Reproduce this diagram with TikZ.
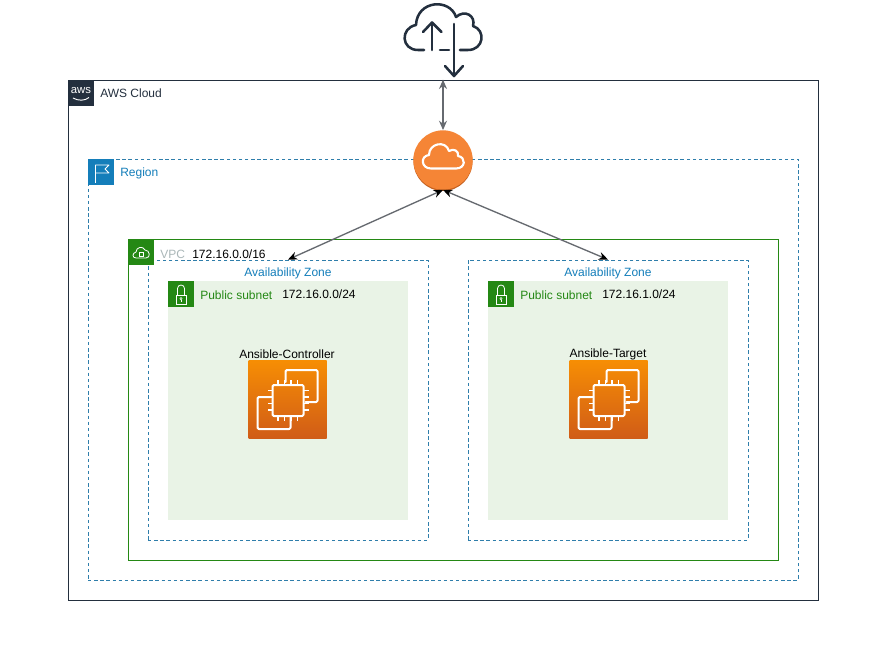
\documentclass[tikz,border=0pt]{standalone}
\usepackage{fontspec}
\setmainfont{Liberation Sans}
\usetikzlibrary{arrows.meta}
\definecolor{awsdark}{HTML}{232F3E}
\definecolor{awsblue}{HTML}{147EBA}
\definecolor{awsgreen}{HTML}{248814}
\definecolor{subnetfill}{HTML}{E9F3E6}
\definecolor{vpcgrey}{HTML}{AAB7B8}
\definecolor{linkgrey}{HTML}{666A70}
\definecolor{ec2top}{HTML}{F78E04}
\definecolor{ec2bot}{HTML}{D05C17}
\definecolor{igwfill}{HTML}{F58536}
\definecolor{igwedge}{HTML}{C4601F}
\tikzset{
  x=0.75pt,y=-0.75pt,
  txt/.style={font=\fontsize{9}{11}\selectfont,inner sep=0pt,anchor=west},
  cloudbox/.style={draw=awsdark,line width=0.5pt},
  regionbox/.style={draw=awsblue!75!gray,line width=0.6pt,dash pattern=on 2.6pt off 2pt},
  vpcbox/.style={draw=awsgreen,line width=0.6pt},
  subnetbox/.style={fill=subnetfill,draw=none},
  badge/.style={minimum size=19.5pt,inner sep=0pt,draw=none},
  link/.style={draw=linkgrey,line width=1pt},
  ec2box/.style={minimum size=58.5pt,inner sep=0pt,top color=ec2top,bottom color=ec2bot},
  whiteline/.style={draw=white,line width=1.5pt,line cap=round,line join=round,rounded corners=1pt},
  pin/.style={draw=white,line width=1.1pt},
  ec2/.pic={
    \draw[whiteline] (-2,-17)--(-2,-29)--(30,-29)--(30,3)--(18,3);
    \draw[whiteline] (-17,-2)--(-30,-2)--(-30,30)--(3,30)--(3,18);
    \draw[whiteline] (-15,-14) rectangle (16,17);
    \foreach \k in {-10,-3.5,3,9.5}{
      \draw[pin] (\k+0.5,-14)--(\k+0.5,-19);
      \draw[pin] (\k+0.5,17)--(\k+0.5,22);
      \draw[pin] (-15,\k+1.5)--(-20,\k+1.5);
      \draw[pin] (16,\k+1.5)--(21,\k+1.5);
    }
  },
  lockicon/.pic={
    \draw[white,line width=0.6pt] (-5,0) rectangle (5,9);
    \draw[white,line width=0.6pt] (-3.5,0)--(-3.5,-6.5) arc[start angle=180,end angle=360,radius=3.5]--(3.5,0);
    \draw[white,line width=0.4pt] (0,3.7) circle[radius=1.1];
    \draw[white,line width=0.4pt] (0,4.8)--(0,6.8);
  }
}
\begin{document}
\begin{tikzpicture}
\useasboundingbox[fill=white] (0,0) rectangle (888,666);
% containers
\node[cloudbox,minimum width=562.5pt,minimum height=390pt,inner sep=0pt] (aws) at (443,340) {};
\node[regionbox,minimum width=532.5pt,minimum height=315.75pt,inner sep=0pt] (region) at (443,369.5) {};
\node[vpcbox,minimum width=487.5pt,minimum height=240.75pt,inner sep=0pt] (vpc) at (453,399.5) {};
\node[subnetbox,minimum width=180pt,minimum height=179.25pt,inner sep=0pt] (sub1) at (288,400.5) {};
\node[subnetbox,minimum width=180pt,minimum height=179.25pt,inner sep=0pt] (sub2) at (608,400.5) {};
\node[regionbox,minimum width=210pt,minimum height=210pt,inner sep=0pt] (az1) at (288,400) {};
\node[regionbox,minimum width=210pt,minimum height=210pt,inner sep=0pt] (az2) at (608,400) {};
% badges
\node[badge,fill=awsdark] (awsb) at (81,93) {};
\node[inner sep=0pt,text=white,font=\fontsize{8.5}{9}\selectfont] (awst) at (81,90.5) {aws};
\draw[white,line width=0.7pt] (73,98) .. controls (78,101) and (85,101) .. (89,97.5);
\node[badge,fill=awsblue] (regb) at (101,172) {};
\draw[white,line width=0.6pt,line join=round] (95.5,183)--(95.5,165)--(109,165)--(105,169)--(109,173)--(95.5,173);
\node[badge,fill=awsgreen] (vpcb) at (141,252) {};
\draw[white,line width=0.6pt,line join=round] (136,258) .. controls (132,258) and (132,253) .. (136,252) .. controls (136,247) and (143,245.5) .. (145,250) .. controls (150,250) and (151,258) .. (146,258) -- cycle;
\draw[white,line width=0.5pt] (139,252) rectangle (143.5,256);
\node[badge,fill=awsgreen] (sb1) at (181,294) {};
\node[badge,fill=awsgreen] (sb2) at (501,294) {};
\pic at (181,295) {lockicon};
\pic at (501,295) {lockicon};
% labels
\node[txt,text=awsdark] (tcloud) at (100,93) {AWS Cloud};
\node[txt,text=awsblue] (treg) at (120,173) {Region};
\node[txt,text=vpcgrey] (tvpc) at (160,254) {VPC};
\node[txt,text=black] (tvpcn) at (192,254) {172.16.0.0/16};
\node[txt,text=awsblue,anchor=center] (taz1) at (288,273) {Availability Zone};
\node[txt,text=awsblue,anchor=center] (taz2) at (608,273) {Availability Zone};
\node[txt,text=awsgreen] (ts1) at (200,295) {Public subnet};
\node[txt,text=black] (tn1) at (282,294) {172.16.0.0/24};
\node[txt,text=awsgreen] (ts2) at (520,295) {Public subnet};
\node[txt,text=black] (tn2) at (602,294) {172.16.1.0/24};
\node[txt,text=black,anchor=center] (tc) at (287,354) {Ansible-Controller};
\node[txt,text=black,anchor=center] (tt) at (608,354) {Ansible-Target};
% EC2
\node[ec2box] (ec2a) at (287.5,399) {};
\node[ec2box] (ec2b) at (608.5,399) {};
\pic at (ec2a) {ec2};
\pic at (ec2b) {ec2};
% gateway
\fill[igwedge] (443,161.5) circle[radius=29.5];
\node[circle,minimum size=44.5pt,inner sep=0pt,fill=igwfill] (igw) at (443,160) {};
\draw[white,line width=1.6pt,line join=round] (431,168.5) .. controls (421,168.5) and (420,156) .. (429,155) .. controls (429,143) and (446,140) .. (449,151) .. controls (454,148) and (459,151) .. (458,156) .. controls (466,157) and (466,168.5) .. (456,168.5) -- cycle;
% internet icon
\begin{scope}[draw=awsdark,line width=1.9pt,line cap=round,line join=round]
\draw (424,50) -- (418,50) .. controls (401,50) and (400,28) .. (416,25) .. controls (417,0) and (450,-2) .. (456,17) .. controls (465,9) and (476,16) .. (473,26) .. controls (486,30) and (484,50) .. (468,50) -- (460,50);
\draw (440,50) -- (449,50);
\draw (432,50) -- (432,23);
\draw (423,32) -- (432,22.5) -- (441.5,32);
\draw (454,24) -- (454,76);
\draw (445,66) -- (454,76) -- (463,66);
\end{scope}
% connectors
\draw[link,{Stealth[length=7pt,width=6pt]}-{Stealth[length=7pt,width=6pt]}] (aws.north) -- (igw.north);
\draw[link,{Stealth[length=7pt,width=6pt,black]}-{Stealth[length=7pt,width=6pt,black]}] (igw.south) -- (az1.north);
\draw[link,{Stealth[length=7pt,width=6pt,black]}-{Stealth[length=7pt,width=6pt,black]}] (igw.south) -- (az2.north);
\end{tikzpicture}
\end{document}
